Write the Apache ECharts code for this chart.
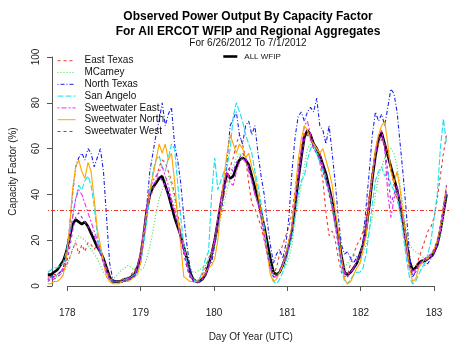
<!DOCTYPE html>
<html><head><meta charset="utf-8">
<script src="https://cdn.jsdelivr.net/npm/echarts@6.0.0/dist/echarts.min.js"></script>
<style>html,body{margin:0;padding:0;background:#fff}#c{width:474px;height:355px}</style>
</head><body><div id="c"></div>
<script>
// ---- data (hourly capacity factor, %) ----
const startDay = 177.7917;   // first sample, day of year (UTC)
const stepDay = 1 / 24;      // hourly samples
const threshold = 33;
const xTickMin = 178, xTickMax = 183;
const yTickMin = 0, yTickMax = 100;

const allWfip = [5,5,6,7,9,
 11,15,21,27,29,28,27,28,26,23,20,17,15,12,8,4,2,2,2,2,3,3,4,5,
 8,13,22,33,40,43,45,47,48,44,40,35,30,26,22,17,12,6,3,2,2,3,5,9,
 14,20,28,36,44,49,47,48,52,55,56,55,53,48,43,38,32,26,19,12,6,5,6,9,
 13,18,24,35,46,56,65,68,66,62,60,57,53,49,43,37,29,22,13,6,5,6,8,10,
 14,18,25,35,47,57,64,67,62,57,52,47,42,35,28,19,11,7,8,10,11,11,12,13,
 15,18,24,32,40];
const eastTexas = [4,4,5,5,6,
 7,9,12,16,19,14,18,15,19,18,16,18,14,12,8,4,2,2,2,3,3,4,5,7,
 9,14,22,32,38,42,46,52,55,54,50,46,40,32,24,16,8,4,3,2,3,5,8,12,
 15,20,26,32,40,46,52,56,62,66,62,56,45,36,34,30,26,20,14,8,5,8,14,18,
 22,26,32,42,52,60,66,68,64,60,58,54,46,32,22,24,20,12,6,4,5,10,14,18,
 20,24,30,40,50,58,62,64,62,58,52,44,38,32,26,16,8,5,8,12,16,20,24,26,
 30,38,48,58,66];
const mcamey = [3,3,4,4,5,
 6,8,12,16,20,22,21,20,18,16,14,12,9,6,4,3,3,4,6,7,8,9,8,7,
 7,7,8,12,17,24,32,38,42,46,48,44,38,30,24,18,12,8,6,6,7,8,9,12,
 14,18,24,30,36,42,48,52,56,58,56,54,50,46,40,36,30,24,16,10,6,5,6,8,
 9,12,18,30,36,44,52,60,62,62,60,56,52,46,40,34,26,18,12,8,10,12,14,12,
 10,14,18,24,30,40,48,52,56,58,60,58,52,44,34,24,18,16,15,14,13,12,12,14,
 16,18,22,30,40];
const northTexas = [3,4,4,5,6,
 8,14,25,40,52,56,58,55,60,58,52,56,60,50,30,10,3,2,2,2,3,3,4,5,
 6,10,20,35,50,58,66,72,80,70,75,78,62,55,45,30,18,8,3,2,2,3,6,10,
 10,18,25,33,40,55,70,73,76,66,62,70,72,66,70,58,48,40,28,18,10,14,16,12,
 18,30,50,65,74,76,72,76,78,76,82,70,68,62,70,58,45,30,18,14,15,12,10,13,
 12,20,35,50,66,76,72,75,70,78,86,84,76,62,48,32,14,4,6,10,11,9,10,12,
 14,18,25,35,42];
const sanAngelo = [6,7,8,8,9,
 10,15,22,30,38,44,42,46,48,44,35,22,15,10,6,3,2,2,2,2,3,3,4,5,
 6,10,18,28,40,50,55,57,52,50,56,62,60,45,30,18,10,5,3,2,3,6,12,15,
 40,56,42,46,50,52,60,74,80,76,72,66,62,58,50,44,36,26,16,8,2,1,3,6,
 10,16,22,30,40,46,48,55,60,62,58,54,50,45,42,36,28,18,8,2,1,3,5,6,
 6,8,14,24,36,46,50,52,48,50,44,42,40,32,22,12,4,1,2,5,8,10,14,20,
 30,40,60,73,62];
const sweetwaterEast = [3,3,4,5,6,
 8,12,20,30,38,42,40,36,32,28,24,20,16,12,6,3,2,2,2,2,3,3,4,5,
 8,14,24,34,42,46,48,50,52,48,44,38,34,28,22,16,10,5,3,2,2,3,5,8,
 14,20,30,38,46,50,45,44,50,54,56,54,50,46,40,36,30,22,14,8,4,4,6,9,
 12,18,26,36,48,60,70,72,66,62,60,58,52,48,42,36,28,20,12,6,5,6,8,11,
 14,18,26,36,48,58,66,68,60,40,30,38,42,36,28,18,10,6,7,9,10,11,12,13,
 15,18,24,32,42];
const sweetwaterNorth = [1,1,2,2,3,
 5,12,25,42,52,55,50,47,54,50,38,25,18,10,4,2,1,1,1,2,2,2,3,4,
 5,10,22,32,42,48,55,62,58,62,55,58,46,30,18,4,3,2,2,2,3,4,6,8,
 9,12,20,34,48,58,66,62,58,62,60,56,58,52,48,40,32,24,14,5,2,3,6,9,
 14,20,26,40,55,64,70,68,64,62,60,58,60,55,50,44,33,24,12,3,1,2,5,8,
 10,16,22,36,48,60,66,70,72,62,50,45,50,42,30,20,8,2,3,8,10,12,12,14,
 16,20,26,35,44];
const sweetwaterWest = [2,3,3,4,5,
 7,10,16,24,30,32,30,28,26,24,22,18,14,10,6,3,2,2,2,2,2,3,3,4,
 7,12,22,32,40,44,46,48,46,44,40,36,32,26,20,14,8,4,2,1,2,3,5,8,
 13,20,28,36,44,50,52,50,54,56,58,56,52,46,40,36,30,22,14,8,4,4,7,10,
 13,18,25,35,46,56,64,66,64,60,58,55,50,46,40,34,26,18,10,5,4,6,8,11,
 14,18,26,36,48,58,64,66,60,50,36,40,44,36,26,16,8,5,6,9,11,12,13,14,
 16,20,26,34,44];

const regionNames = ['East Texas','MCamey','North Texas','San Angelo','Sweetwater East','Sweetwater North','Sweetwater West'];
const regionValues = [eastTexas, mcamey, northTexas, sanAngelo, sweetwaterEast, sweetwaterNorth, sweetwaterWest];
const regionColors = ['#ee3b30','#3fdc3f','#1a22e6','#18e0ee','#ee2cee','#ffa500','#a020f0'];
const regionDash = [[3,3],[1,2],[1,2,4,2],[6,2],[2,2,5,2],'solid',[3,3]];

const FONT = "'Liberation Sans', Arial, Helvetica, sans-serif";
const pairs = vals => vals.map((v, i) => [startDay + i * stepDay, v]);

const series = [{
  name: 'ALL WFIP', type: 'line', xAxisIndex: 0, yAxisIndex: 0,
  symbol: 'none', data: pairs(allWfip),
  lineStyle: { color: '#000', width: 2.6, type: 'solid' }, itemStyle: { color: '#000' },
  markLine: { silent: true, symbol: 'none', label: { show: false },
    lineStyle: { color: '#ee3b30', width: 1, type: [1,2,4,2] },
    data: [{ yAxis: threshold }] },
  z: 2
}];
regionNames.forEach((n, i) => series.push({
  name: n, type: 'line', xAxisIndex: 0, yAxisIndex: 0, symbol: 'none',
  data: pairs(regionValues[i]),
  lineStyle: { color: regionColors[i], width: 1.1, type: regionDash[i] },
  itemStyle: { color: regionColors[i] }, z: 3
}));

const chart = echarts.init(document.getElementById('c'), null, { renderer: 'canvas' });
chart.setOption({
  animation: false,
  backgroundColor: '#fff',
  textStyle: { fontFamily: FONT },
  title: [
    { text: 'Observed Power Output By Capacity Factor\nFor All ERCOT WFIP and Regional Aggregates',
      left: 248, top: 9.5, textAlign: 'center', padding: 0,
      textStyle: { fontFamily: FONT, fontSize: 12, fontWeight: 'bold', color: '#000', lineHeight: 15 } },
    { text: 'For 6/26/2012 To 7/1/2012', left: 248, top: 37, textAlign: 'center', padding: 0,
      textStyle: { fontFamily: FONT, fontSize: 10, fontWeight: 'normal', color: '#111', lineHeight: 12 } }
  ],
  legend: [
    { data: regionNames, orient: 'vertical', left: 57, top: 55.7, padding: 0,
      itemWidth: 18, itemHeight: 10, itemGap: 1.8,
      itemStyle: { opacity: 0, borderWidth: 0 },
      lineStyle: { width: 1 },
      textStyle: { fontFamily: FONT, fontSize: 10, color: '#111', padding: [0,0,0,4] } },
    { data: ['ALL WFIP'], left: 222, top: 52.5, padding: 0, itemWidth: 14, itemHeight: 10,
      itemStyle: { opacity: 0, borderWidth: 0 },
      lineStyle: { width: 2.6 },
      textStyle: { fontFamily: FONT, fontSize: 8, color: '#111', padding: [0,0,0,2] } }
  ],
  grid: [
    { left: 48, right: 25, top: 47.8, bottom: 59.8, containLabel: false },
    { left: 63.3, right: 39.95, top: 57, bottom: 69, containLabel: false }
  ],
  xAxis: [
    { gridIndex: 0, type: 'value', min: 177.794, max: 183.2, show: false },
    { gridIndex: 1, type: 'value', min: xTickMin, max: xTickMax, interval: 1, position: 'bottom', offset: 9,
      axisLine: { show: true, lineStyle: { color: '#555', width: 1 } },
      axisTick: { show: true, length: 5, lineStyle: { color: '#555' } },
      axisLabel: { fontFamily: FONT, fontSize: 10, color: '#222', margin: 13 },
      splitLine: { show: false },
      name: 'Day Of Year (UTC)', nameLocation: 'middle', nameGap: 37,
      nameTextStyle: { fontFamily: FONT, fontSize: 10, color: '#222' } }
  ],
  yAxis: [
    { gridIndex: 0, type: 'value', min: -4, max: 104, show: false },
    { gridIndex: 1, type: 'value', min: yTickMin, max: yTickMax, interval: 20, position: 'left', offset: 15.3,
      axisLine: { show: true, lineStyle: { color: '#555', width: 1 } },
      axisTick: { show: true, length: 5, lineStyle: { color: '#555' } },
      axisLabel: { fontFamily: FONT, fontSize: 10, color: '#222', margin: 11, rotate: 90 },
      splitLine: { show: false },
      name: 'Capacity Factor (%)', nameLocation: 'middle', nameGap: 34, nameRotate: 90,
      nameTextStyle: { fontFamily: FONT, fontSize: 10, color: '#222' } }
  ],
  series: series
});
</script></body></html>
